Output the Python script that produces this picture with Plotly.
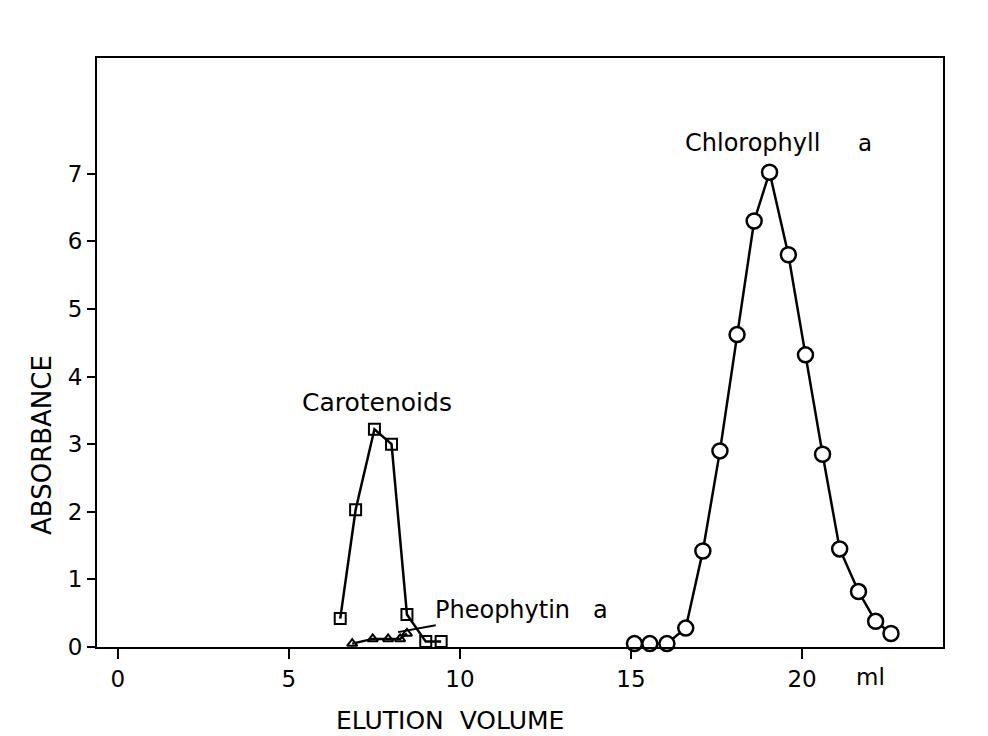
import plotly.graph_objects as go

carot_x = [6.5, 6.95, 7.5, 8.0, 8.45, 9.0, 9.45]
carot_y = [0.42, 2.03, 3.22, 3.0, 0.48, 0.08, 0.08]

pheo_x = [6.85, 7.45, 7.9, 8.25, 8.45]
pheo_y = [0.05, 0.12, 0.12, 0.12, 0.2]

chl_x = [15.1, 15.55, 16.05, 16.6, 17.1, 17.6, 18.1, 18.6, 19.05,
         19.6, 20.1, 20.6, 21.1, 21.65, 22.15, 22.6]
chl_y = [0.05, 0.05, 0.05, 0.28, 1.42, 2.9, 4.62, 6.3, 7.02,
         5.8, 4.32, 2.85, 1.45, 0.82, 0.38, 0.2]

x_ticks = [0, 5, 10, 15, 20]
y_ticks = [0, 1, 2, 3, 4, 5, 6, 7]

FONT = "DejaVu Sans"
BLACK = "black"
FS = 23
LW = 2.5

fig = go.Figure()

# Carotenoides (quadrados)
fig.add_trace(go.Scatter(
    x=carot_x, y=carot_y, mode="lines+markers",
    line=dict(color=BLACK, width=LW),
    marker=dict(symbol="square-open", size=11, color=BLACK, line=dict(width=2)),
    cliponaxis=False, showlegend=False
))

# Feofitina a (triângulos)
fig.add_trace(go.Scatter(
    x=pheo_x, y=pheo_y, mode="lines+markers",
    line=dict(color=BLACK, width=LW),
    marker=dict(symbol="triangle-up-open", size=9, color=BLACK, line=dict(width=2)),
    cliponaxis=False, showlegend=False
))

# Clorofila a (círculos)
fig.add_trace(go.Scatter(
    x=chl_x, y=chl_y, mode="lines+markers",
    line=dict(color=BLACK, width=LW),
    marker=dict(symbol="circle", size=15, color="white", line=dict(width=2.5, color=BLACK)),
    cliponaxis=False, showlegend=False
))

txt = dict(size=FS, color=BLACK, family=FONT)
annots = [
    dict(x=7.57, y=3.61, text="Carotenoids", showarrow=False,
         font=dict(size=25, color=BLACK, family=FONT)),
    dict(x=18.54, y=7.46, text="Chlorophyll", showarrow=False,
         font=dict(size=24, color=BLACK, family=FONT)),
    dict(x=21.84, y=7.46, text="a", showarrow=False, font=txt),
    dict(x=8.19, y=0.22, ax=11.8, ay=0.55, axref="x", ayref="y",
         text="Pheophytin&nbsp;&nbsp;&nbsp;a", showarrow=True, arrowhead=0,
         arrowwidth=2, arrowcolor=BLACK, font=dict(size=24, color=BLACK, family=FONT)),
    dict(x=22.0, xref="x", y=-0.051, yref="paper", text="ml", showarrow=False,
         xanchor="center", yanchor="middle", font=txt),
    dict(x=9.7, xref="x", y=-0.125, yref="paper", text="ELUTION&nbsp;&nbsp;VOLUME",
         showarrow=False, xanchor="center", yanchor="middle",
         font=dict(size=25, color=BLACK, family=FONT)),
    dict(x=-0.065, xref="paper", y=0.343, yref="paper", text="ABSORBANCE",
         textangle=-90, showarrow=False, xanchor="center", yanchor="middle",
         font=dict(size=26, color=BLACK, family=FONT)),
]

fig.update_layout(
    width=980, height=728,
    margin=dict(l=89, r=45, t=50, b=89),
    plot_bgcolor="white", paper_bgcolor="white",
    font=dict(family=FONT, size=FS, color=BLACK),
    annotations=annots,
)

fig.update_xaxes(
    range=[-0.61, 24.12], tickvals=x_ticks,
    showgrid=False, zeroline=False,
    showline=True, linecolor=BLACK, linewidth=2, mirror=True,
    ticks="outside", ticklen=10, tickwidth=2, tickcolor=BLACK,
    tickfont=dict(size=FS, family=FONT),
)
fig.update_yaxes(
    range=[0, 8.71], tickvals=y_ticks,
    showgrid=False, zeroline=False,
    showline=True, linecolor=BLACK, linewidth=2, mirror=True,
    ticks="outside", ticklen=8, tickwidth=2, tickcolor=BLACK,
    tickfont=dict(size=FS, family=FONT),
)

fig.write_html("out.html")
